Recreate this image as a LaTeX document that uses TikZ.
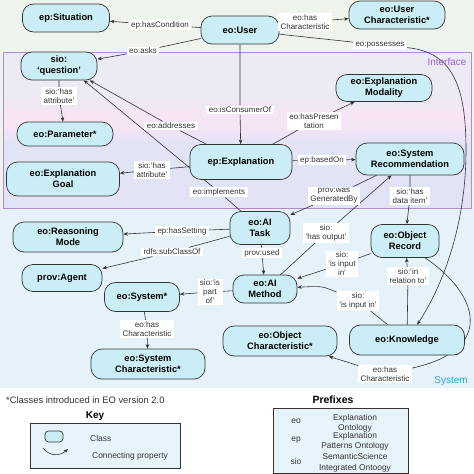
\documentclass[tikz,border=0pt]{standalone}
\usepackage{fontspec}
\setmainfont{Liberation Sans}
\usetikzlibrary{arrows.meta}
\definecolor{clsfill}{HTML}{CBEEF6}
\definecolor{topbg}{HTML}{EEF4EC}
\definecolor{ifgray}{HTML}{ECEAF3}
\definecolor{ifpink}{HTML}{F5E5F5}
\definecolor{ifblue}{HTML}{E3E3F6}
\definecolor{ifborder}{HTML}{B08CCB}
\definecolor{iftext}{HTML}{9B62C6}
\definecolor{sysbg}{HTML}{E5F2FA}
\definecolor{systext}{HTML}{3A9FD6}
\definecolor{keybg}{HTML}{E6F3FB}
\definecolor{linecol}{HTML}{333333}
\definecolor{labtext}{HTML}{333333}
\pgfdeclarelayer{bg}
\pgfdeclarelayer{edges}
\pgfsetlayers{bg,edges,main}
\begin{document}
\begin{tikzpicture}[x=1pt,y=-1pt,
  cls/.style={draw=linecol, line width=0.7pt, fill=clsfill, rounded corners=11pt, align=center, inner sep=1pt, font=\fontsize{9.3}{11}\selectfont\bfseries},
  lab/.style={fill=white, inner xsep=2.5pt, inner ysep=1.5pt, align=center, text=labtext, font=\fontsize{8}{9}\selectfont},
  conn/.style={draw=linecol, line width=0.6pt, -{Stealth[length=4.5pt,width=3.6pt]}},
  keytext/.style={font=\fontsize{8.4}{10}\selectfont, text=labtext, inner sep=0pt},
  boxstyle/.style={draw=linecol, line width=0.7pt, fill=keybg, inner sep=0pt},
]
\useasboundingbox (0,0) rectangle (474,474);
\begin{pgfonlayer}{bg}
 \fill[white] (0,0) rectangle (474,474);
 \fill[topbg] (0,0) rectangle (474,209);
 \fill[sysbg] (0,209) rectangle (474,388);
 \fill[ifgray] (3,52) rectangle (471,95.5);
 \shade[top color=ifgray, bottom color=ifpink] (3,95) rectangle (471,110.5);
 \fill[ifpink] (3,110) rectangle (471,125.5);
 \shade[top color=ifpink, bottom color=ifblue] (3,125) rectangle (471,142.5);
 \fill[ifblue] (3,142) rectangle (471,208);
 \draw[ifborder, line width=1pt] (3,52) rectangle (471,208);
\end{pgfonlayer}

\node[text=iftext, font=\fontsize{10}{12}\selectfont] (iflab) at (447,62) {Interface};
\node[text=systext, font=\fontsize{10}{12}\selectfont] (syslab) at (451,381) {System};

% classes
\node[cls, minimum width=87pt, minimum height=28pt] (sit) at (66,18) {ep:Situation};
\node[cls, minimum width=78pt, minimum height=28pt] (user) at (240,30) {eo:User};
\node[cls, minimum width=96pt, minimum height=28pt] (uchar) at (397,15) {eo:User\\Characteristic*};
\node[cls, minimum width=76pt, minimum height=28pt] (quest) at (59,66) {sio:\\‘question’};
\node[cls, minimum width=96pt, minimum height=27pt] (modal) at (384,88) {eo:Explanation\\Modality};
\node[cls, minimum width=96pt, minimum height=24pt] (param) at (65,134) {eo:Parameter*};
\node[cls, minimum width=113pt, minimum height=34pt] (goal) at (63,179) {eo:Explanation\\Goal};
\node[cls, minimum width=102pt, minimum height=35pt] (expl) at (241,162) {ep:Explanation};
\node[cls, minimum width=108pt, minimum height=32pt] (rec) at (410,159) {eo:System\\Recommendation};
\node[cls, minimum width=60pt, minimum height=33pt] (task) at (260,228) {eo:AI\\Task};
\node[cls, minimum width=110pt, minimum height=30pt] (reas) at (68,237) {eo:Reasoning\\Mode};
\node[cls, minimum width=80pt, minimum height=27pt] (agent) at (62,278) {prov:Agent};
\node[cls, minimum width=75pt, minimum height=29pt] (sys) at (142,297) {eo:System*};
\node[cls, minimum width=64pt, minimum height=28pt] (meth) at (265,289) {eo:AI\\Method};
\node[cls, minimum width=68pt, minimum height=33pt] (orec) at (405,241) {eo:Object\\Record};
\node[cls, minimum width=115pt, minimum height=30pt] (know) at (407,340) {eo:Knowledge};
\node[cls, minimum width=114pt, minimum height=30pt] (ochar) at (280,341) {eo:Object\\Characteristic*};
\node[cls, minimum width=114pt, minimum height=30pt] (schar) at (148,364) {eo:System\\Characteristic*};

% property labels
\node[lab] (lcond) at (160,25) {ep:hasCondition};
\node[lab] (lasks) at (143,51) {eo:asks};
\node[lab] (lhc1) at (305,22) {eo:has\\Characteristic};
\node[lab] (lposs) at (380,45) {eo:possesses};
\node[lab] (lcons) at (240,110) {eo:isConsumerOf};
\node[lab] (lattr1) at (59,96) {sio:‘has\\attribute’};
\node[lab] (laddr) at (171,126) {eo:addresses};
\node[lab] (lpres) at (314,121) {eo:hasPresen\\tation};
\node[lab] (lattr2) at (152,170) {sio:‘has\\attribute’};
\node[lab] (lbased) at (322,160) {ep:basedOn};
\node[lab] (limpl) at (219,192) {eo:implements};
\node[lab] (lgen) at (334,196) {prov:was\\GeneratedBy};
\node[lab] (ldata) at (410,196) {sio:‘has\\data item’};
\node[lab] (lset) at (182,231) {ep:hasSetting};
\node[lab] (lsub) at (172,252) {rdfs:subClassOf};
\node[lab] (lout) at (326,233) {sio:\\‘has output’};
\node[lab] (lused) at (262,253) {prov:used};
\node[lab] (linp1) at (342,264) {sio:\\‘is input\\in’};
\node[lab] (lpart) at (210,292) {sio:‘is\\part\\of’};
\node[lab] (lrel) at (408,276) {sio:‘in\\relation to’};
\node[lab] (linp2) at (358,301) {sio:\\‘is input in’};
\node[lab] (lhc2) at (147,329) {eo:has\\Characteristic};
\node[lab] (lhc3) at (385,374) {eo:has\\Characteristic};

\coordinate (pb) at (466,150);

\begin{pgfonlayer}{edges}
\draw[conn] (user) -- (lcond) -- (sit);
\draw[conn] (user) -- (lasks) -- (quest);
\draw[conn] (user) -- (lhc1) -- (uchar);
\draw[conn] (user) -- (lposs) .. controls (452,52) and (466,85) .. (pb) .. controls (466,230) and (440,290) .. (know);
\draw[conn] (user) -- (lcons) -- (expl);
\draw[conn] (quest) -- (lattr1) -- (param);
\draw[conn] (expl) -- (laddr) -- (quest.-25);
\draw[conn] (expl) -- (lpres) -- (modal);
\draw[conn] (expl) -- (lattr2) -- (goal);
\draw[conn] (expl) -- (lbased) -- (rec);
\draw[conn] (task) -- (limpl) -- (quest.-30);
\draw[conn] (rec) -- (lgen) -- (task);
\draw[conn] (meth) -- (lout) -- (rec);
\draw[conn] (rec) -- (ldata) -- (orec);
\draw[conn] (task) -- (lset) -- (reas);
\draw[conn] (task) -- (lsub) -- (agent);
\draw[conn] (task) -- (lused) -- (meth);
\draw[conn] (meth) -- (lpart) -- (sys);
\draw[conn] (sys) -- (lhc2) -- (schar);
\draw[conn] (orec) -- (linp1) -- (meth);
\draw[conn] (know) -- (linp2) .. controls (322,286) .. (meth);
\draw[conn] (know) -- (lrel) -- (orec);
\draw[conn] (orec.-40) .. controls (480,295) and (495,350) .. (lhc3) -- (ochar);
\end{pgfonlayer}

% footnote and key
\node[font=\fontsize{9.4}{11}\selectfont, text=labtext, anchor=west, inner sep=0pt] (note) at (6,400) {*Classes introduced in EO version 2.0};
\node[font=\fontsize{10}{12}\selectfont\bfseries] (keyt) at (95,416) {Key};
\node[boxstyle, minimum width=150pt, minimum height=45pt] (keybox) at (105,445.5) {};
\node[cls, minimum width=18pt, minimum height=11pt, rounded corners=3.5pt] (keycls) at (54,436.5) {};
\node[keytext, anchor=west] (keyclass) at (90,438) {Class};
\coordinate (ka) at (43,448);
\coordinate (kb) at (68,449);
\draw[conn] (ka) .. controls (50,457) and (60,456) .. (kb);
\node[keytext, anchor=west] (keyconn) at (92,456) {Connecting property};

% prefixes
\node[font=\fontsize{10.5}{12}\selectfont\bfseries] (preft) at (333,400) {Prefixes};
\node[boxstyle, minimum width=135pt, minimum height=65pt] (prefbox) at (340.5,441) {};
\node[keytext] (peo) at (296,421) {eo};
\node[keytext, align=center, font=\fontsize{8.4}{10.5}\selectfont] (peot) at (355,423.5) {Explanation\\Ontology};
\node[keytext] (pep) at (296,440) {ep};
\node[keytext, align=center, font=\fontsize{8.4}{10.5}\selectfont] (pept) at (355,441.5) {Explanation\\Patterns Ontology};
\node[keytext] (psio) at (296,461) {sio};
\node[keytext, align=center, font=\fontsize{8.4}{10.5}\selectfont] (psiot) at (355,463) {SemanticScience\\Integrated Ontoogy};
\end{tikzpicture}
\end{document}
